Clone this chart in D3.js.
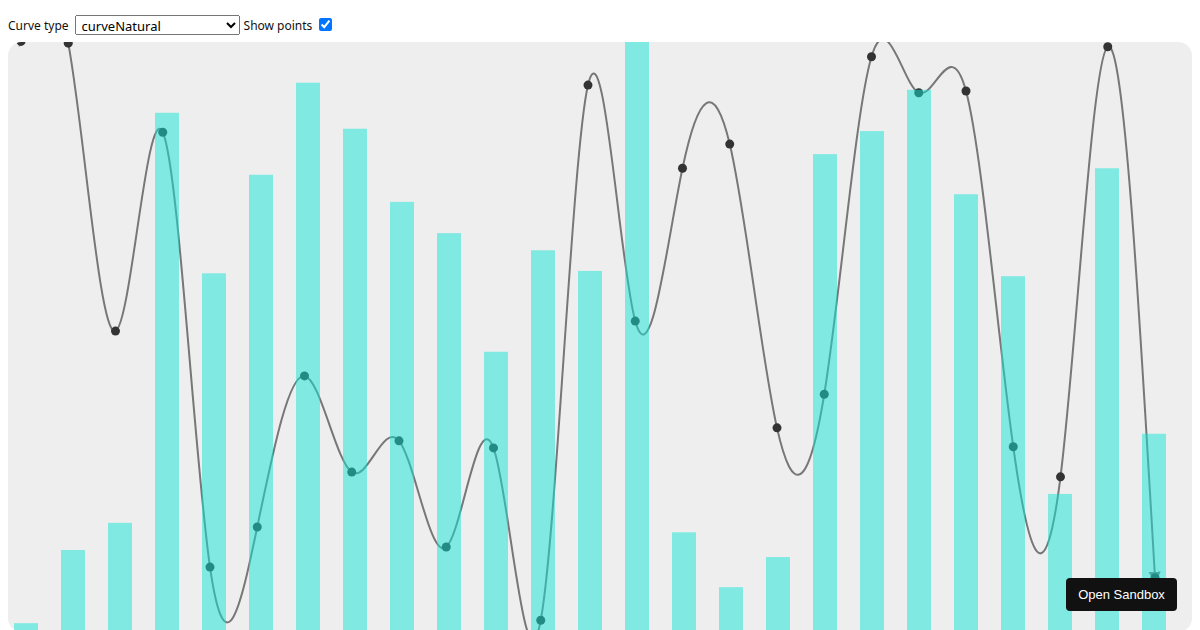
<!DOCTYPE html>
<html>
<head>
<meta charset="utf-8">
<script src="https://cdn.jsdelivr.net/npm/d3@7"></script>
<style>
  html, body { margin: 0; padding: 0; background: #fff; width: 1200px; height: 630px; overflow: hidden; }
  body { font-family: "Noto Sans", "Open Sans", sans-serif; font-size: 12px; color: #111; }
  #controls { position: absolute; left: 8px; top: 14px; height: 22px; display: flex; align-items: center; white-space: nowrap; }
  #controls select { margin: 0 4px 0 6px; width: 165px; height: 20px; font-family: "Noto Sans", "Open Sans", sans-serif; font-size: 13px; padding: 0 2px; }
  #controls input { margin: 0 0 2px 7px; width: 13px; height: 13px; }
  #panel { position: absolute; left: 8px; top: 42px; width: 1184px; height: 590px; background: #eeeeee; border-radius: 14px; overflow: hidden; }
  #sandbox { position: absolute; left: 1066px; top: 578px; width: 111px; height: 33px; background: #111; color: #fff; border-radius: 4px;
             font-family: "Liberation Sans", Arial, sans-serif; font-size: 13px; display: flex; align-items: center; justify-content: center; }
</style>
</head>
<body>
<div id="controls">
  <label for="curve">Curve type</label>
  <select id="curve"></select>
  <label for="pts">Show points</label>
  <input type="checkbox" id="pts" checked>
</div>
<div id="panel"></div>
<div id="sandbox">Open Sandbox</div>
<script>
// ---- data ----
const barCategories = d3.range(25).map(i => "B" + (i + 1));
const barValues = [1.5, 13.9, 18.5, 88.0, 60.8, 77.5, 93.1, 85.3, 72.9, 67.6, 47.5, 64.7, 61.2,
                   100, 16.9, 7.6, 12.7, 81.0, 84.9, 91.9, 74.2, 60.3, 23.4, 78.6, 33.6];
const lineCategories = d3.range(25).map(i => "P" + i);
const lineValues = [100.1, 99.8, 51.0, 84.7, 11.0, 17.8, 43.4, 27.1, 32.4, 14.4, 31.2, 2.0, 92.7,
                    52.7, 78.6, 82.7, 34.6, 40.3, 97.5, 91.4, 91.7, 31.4, 26.3, 99.2, 9.2];
const curveTypes = ["curveLinear", "curveStep", "curveStepBefore", "curveStepAfter", "curveBasis",
                    "curveCardinal", "curveCatmullRom", "curveMonotoneX", "curveNatural", "curveBumpX"];
const yDomain = [0, 100];

// ---- drawing ----
const W = 1184, H = 590;
const svg = d3.select("#panel").append("svg").attr("width", W).attr("height", H);

const defs = svg.append("defs");
defs.append("marker")
  .attr("id", "arrow")
  .attr("viewBox", "0 -5 10 10")
  .attr("refX", 5).attr("refY", 0)
  .attr("markerUnits", "userSpaceOnUse")
  .attr("markerWidth", 12).attr("markerHeight", 12)
  .attr("orient", "auto-start-reverse")
  .append("path").attr("d", "M0,-5L10,0L0,5Z").attr("fill", "#777");

const xBand = d3.scaleBand().domain(barCategories).range([0, 1164]).paddingInner(0.49).paddingOuter(0.128);
const xPoint = d3.scalePoint().domain(lineCategories).range([13, 1147]);
const y = d3.scaleLinear().domain(yDomain).range([H, 0]);

const lineData = lineCategories.map((c, i) => ({ c, v: lineValues[i] }));

const path = svg.append("path")
  .attr("fill", "none")
  .attr("stroke", "#777")
  .attr("stroke-width", 2)
  .attr("marker-start", "url(#arrow)")
  .attr("marker-end", "url(#arrow)");

const pts = svg.append("g").attr("fill", "#333")
  .selectAll("circle").data(lineData).join("circle")
  .attr("cx", d => xPoint(d.c)).attr("cy", d => y(d.v)).attr("r", 4.5);

svg.append("g").attr("fill", "rgb(18,230,214)").attr("fill-opacity", 0.5)
  .selectAll("rect").data(barCategories).join("rect")
  .attr("x", d => xBand(d))
  .attr("width", xBand.bandwidth())
  .attr("y", (d, i) => y(barValues[i]))
  .attr("height", (d, i) => y(0) - y(barValues[i]));

function render() {
  const name = d3.select("#curve").property("value");
  const line = d3.line().x(d => xPoint(d.c)).y(d => y(d.v)).curve(d3[name]);
  path.attr("d", line(lineData));
  pts.attr("display", d3.select("#pts").property("checked") ? null : "none");
}

d3.select("#curve").selectAll("option").data(curveTypes).join("option")
  .attr("value", d => d).text(d => d)
  .property("selected", d => d === "curveNatural");
d3.select("#curve").on("change", render);
d3.select("#pts").on("change", render);
render();
</script>
</body>
</html>
